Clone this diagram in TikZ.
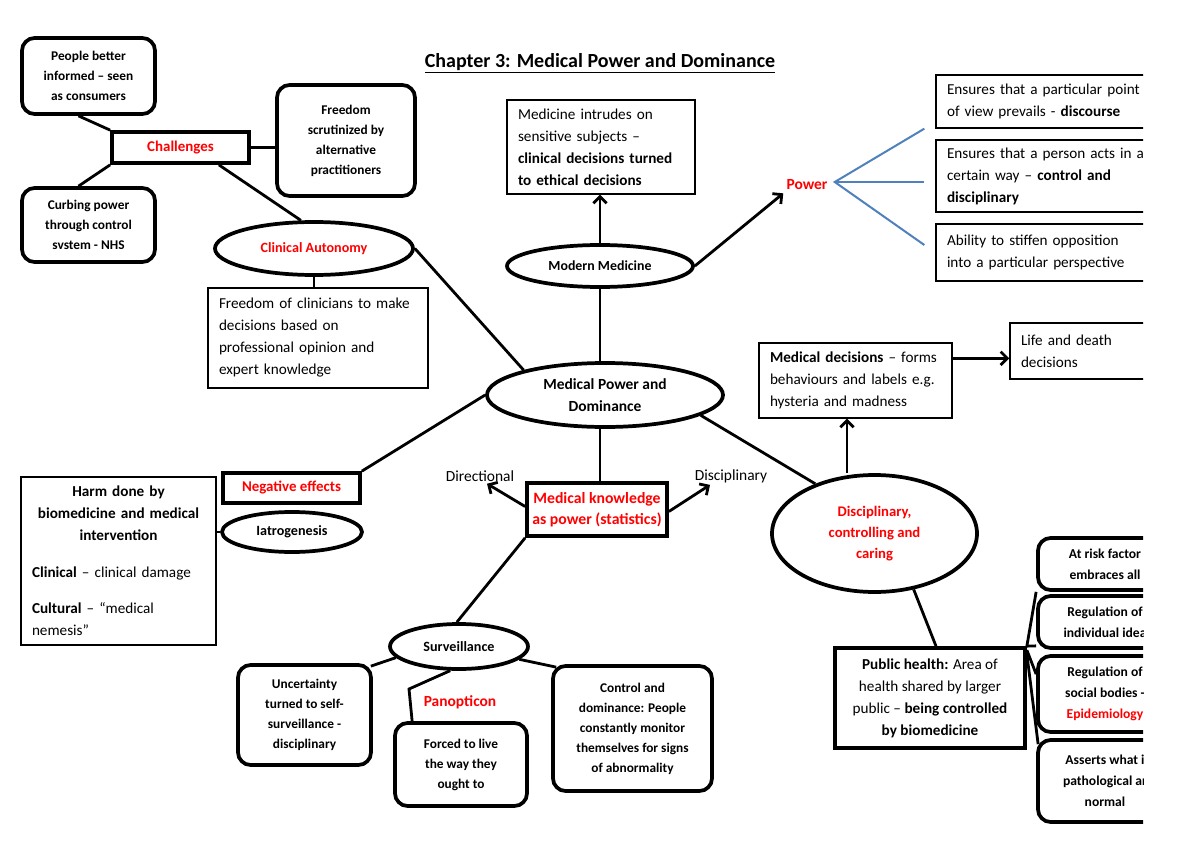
\documentclass[tikz,border=0pt]{standalone}
\usepackage{fontspec}
\setmainfont{Carlito}
\usetikzlibrary{shapes.geometric,arrows.meta,calc}
\definecolor{wblue}{RGB}{79,129,189}
\definecolor{wred}{RGB}{255,0,0}
\begin{document}
\begin{tikzpicture}[x=0.75pt,y=-0.75pt,
 sz/.style 2 args={minimum width=#1,minimum height=#2},
 rbox/.style={draw,line width=2.8pt,rounded corners=9.5pt,align=center,inner sep=0pt,font=\fontsize{10}{15}\selectfont\bfseries},
 tbox/.style={draw,line width=1pt,align=left,inner xsep=8.25pt,inner ysep=0pt,font=\fontsize{11.4}{16.5}\selectfont},
 hbox/.style={draw,line width=2.8pt,align=center,inner sep=0pt,font=\fontsize{11.2}{15.75}\selectfont\bfseries\color{wred}},
 ell/.style={ellipse,draw,line width=2.8pt,align=center,inner sep=0pt,font=\fontsize{10.6}{15.5}\selectfont\bfseries},
 redtxt/.style={text=wred},
 con/.style={line width=2.1pt},
 arr/.style={con,-{Straight Barb[length=5pt,width=10pt,line width=2.1pt]}},
 blu/.style={line width=1.5pt,draw=wblue},
 lbl/.style={inner sep=0pt,font=\fontsize{11.6}{16.5}\selectfont}
]
\useasboundingbox (0,0) rectangle (1200,849);
\fill[white] (0,0) rectangle (1200,849);
\begin{scope}
\clip (0,0) rectangle (1143,849);

% title
\node[inner sep=0pt,font=\fontsize{15}{18}\selectfont\bfseries] (title) at (600,63) {\underline{Chapter 3: Medical Power and Dominance}};

% top left cluster
\node[rbox,sz={99.75pt}{57pt}] (p1) at (88.5,76) {People better\\informed – seen\\as consumers};
\node[rbox,sz={103.5pt}{83.25pt}] (fs) at (346,140.5) {Freedom\\scrutinized by\\alternative\\practitioners};
\node[rbox,sz={99.75pt}{55.5pt}] (cp) at (88.5,225) {Curbing power\\through control\\svstem - NHS};
\node[hbox,sz={102.75pt}{23.25pt}] (ch) at (180.5,147.5) {Challenges};
\node[ell,redtxt,sz={148.5pt}{39.75pt}] (ca) at (314,248.5) {Clinical Autonomy};
\node[tbox,text width=148.5pt,minimum height=75pt] (fc) at (318,338) {Freedom of clinicians to make\\decisions based on\\professional opinion and\\expert knowledge};

% centre
\node[ell,sz={177pt}{48pt},font=\fontsize{11.6}{16.5}\selectfont\bfseries] (mpd) at (605,395) {Medical Power and\\Dominance};
\node[ell,sz={139.5pt}{31.5pt},font=\fontsize{10.4}{15.5}\selectfont\bfseries] (mm) at (600,266) {Modern Medicine};
\node[tbox,text width=124.5pt,minimum height=70.5pt] (mi) at (601,147) {Medicine intrudes on\\sensitive subjects –\\\textbf{clinical decisions turned}\\\textbf{to ethical decisions}};
\node[lbl,redtxt,font=\fontsize{11.6}{15}\selectfont\bfseries] (pw) at (807,185) {Power};
\node[tbox,text width=189pt,minimum height=39.75pt] (q1) at (1073,101.5) {Ensures that a particular point\\of view prevails - \textbf{discourse}};
\node[tbox,text width=189pt,minimum height=54pt] (q2) at (1073,176) {Ensures that a person acts in a\\certain way – \textbf{control and}\\\textbf{disciplinary}};
\node[tbox,text width=189pt,minimum height=42.75pt] (q3) at (1073,252.5) {Ability to stiffen opposition\\into a particular perspective};

% left lower
\node[hbox,sz={102.75pt}{22.5pt}] (ne) at (291.5,488) {Negative effects};
\node[ell,sz={105pt}{30pt}] (ia) at (292,532) {Iatrogenesis};
\node[tbox,text width=129.75pt,minimum height=126pt] (hm) at (118.5,561) {{\centering\bfseries Harm done by\\biomedicine and medical\\intervention\par}\vspace{11pt}
\textbf{Clinical} – clinical damage\par\vspace{10.5pt}
\textbf{Cultural} – “medical\\nemesis”};

% knowledge
\node[hbox,sz={105pt}{39.75pt},font=\fontsize{11.8}{15.75}\selectfont\bfseries\color{wred}] (mk) at (597,509.5) {Medical knowledge\\as power (statistics)};
\node[lbl] (dirl) at (480,476) {Directional};
\node[lbl] (disl) at (731,476) {Disciplinary};
\node[ell,sz={103.5pt}{33.75pt}] (sv) at (459,646.5) {Surveillance};
\node[rbox,sz={99.75pt}{75pt}] (un) at (304.5,715) {Uncertainty\\turned to self-\\surveillance -\\disciplinary};
\node[rbox,sz={119.25pt}{93.75pt}] (co) at (632.5,728.5) {Control and\\dominance: People\\constantly monitor\\themselves for signs\\of abnormality};
\node[rbox,sz={99pt}{62.25pt}] (fo) at (461,764.5) {Forced to live\\the way they\\ought to};
\node[lbl,redtxt,font=\fontsize{11.6}{15}\selectfont\bfseries] (pa) at (460,702) {Panopticon};

% right
\node[ell,redtxt,sz={153.75pt}{87.75pt},font=\fontsize{11}{15.5}\selectfont\bfseries] (dc) at (874.5,533.5) {Disciplinary,\\controlling and\\caring};
\node[tbox,text width=128.25pt,minimum height=56.25pt] (md) at (855.5,380.5) {\textbf{Medical decisions} – forms\\behaviours and labels e.g.\\hysteria and madness};
\node[tbox,text width=133.5pt,minimum height=42pt] (ld) at (1110,351) {Life and death\\decisions};
\node[draw,line width=2.8pt,align=center,inner sep=0pt,sz={142.5pt}{75pt},font=\fontsize{11.4}{16.5}\selectfont] (ph) at (930,698) {\textbf{Public health:} Area of\\health shared by larger\\public – \textbf{being controlled}\\\textbf{by biomedicine}};
\node[rbox,sz={100.5pt}{39pt},font=\fontsize{10.2}{15.75}\selectfont\bfseries] (r1) at (1105,564) {At risk factor\\embraces all};
\node[rbox,sz={100.5pt}{39pt},font=\fontsize{10.2}{15.75}\selectfont\bfseries] (r2) at (1105,622) {Regulation of\\individual idea};
\node[rbox,sz={100.5pt}{57pt},font=\fontsize{10.2}{15.75}\selectfont\bfseries] (r3) at (1105,694) {Regulation of\\social bodies -\\\textcolor{wred}{Epidemiology}};
\node[rbox,sz={100.5pt}{61.5pt},font=\fontsize{10.2}{15.75}\selectfont\bfseries] (r4) at (1105,781) {Asserts what i\\pathological ar\\normal};

% connectors
\draw[con] ($(p1.south)+(-10,0)$) -- (ch.north west);
\draw[con] ($(cp.north)+(-10,0)$) -- (ch.south west);
\draw[con] (ch.east) -- (ch.east -| fs.west);
\draw[con] ($(ch.south east)+(-32,0)$) -- (ca.115);
\draw[con] (ca.south) -- (ca.south |- fc.north);
\draw[con] (ca.east) -- (mpd.163);
\draw[con] (mm.south) -- (mm.south |- mpd.north);
\draw[arr] (mm.north) -- (mm.north |- mi.south);
\draw[arr] (mm.east) -- ($(pw.south west)+(-3,3)$);
\coordinate (pwr) at ($(pw.east)+(7,-3)$);
\draw[blu] ($(q1.south west)+(-11,0)$) -- (pwr) -- ($(q3.west)+(-11,-7.5)$);
\draw[blu] (pwr) -- ($(q2.west)+(-11,6)$);
\draw[con] (mpd.west) -- (ne.north east);
\draw[con] (ia.west) -- (ia.west -| hm.east);
\draw[con] (mm.south |- mpd.south) -- (mm.south |- mk.north);
\draw[arr] ($(mk.west)+(0,-3)$) -- ($(dirl.south)+(7,2)$);
\draw[arr] ($(mk.east)+(0,2)$) -- ($(disl.south)+(-21,2)$);
\draw[con] (mk.south west) -- (sv.95);
\draw[con] (sv.190) -- ($(un.north east)+(-2,3)$);
\draw[con] (sv.-12) -- ($(co.north west)+(5,3)$);
\coordinate (pbend) at (409,689);
\draw[con] (sv.250) -- (pbend) -- ($(fo.north west)+(19,0)$);
\draw[con] (mpd.-12) -- (dc.140);
\coordinate (mdb) at ($(md.south)+(-8.5,0)$);
\draw[arr] (mdb |- dc.north) -- (mdb);
\coordinate (mde) at ($(md.north east)!0.21!(md.south east)$);
\draw[arr] (mde) -- (mde -| ld.west);
\draw[con] (dc.-55) -- ($(ph.north)+(6,0)$);
\draw[con] (ph.north east) -- (r1.south west);
\draw[con] (ph.north east) -- ($(r2.south west)+(0,-4)$);
\draw[con] ($(ph.north east)+(0,4)$) -- ($(r3.north west)+(0,20)$);
\draw[con] ($(ph.north east)+(0,8)$) -- ($(r4.north west)+(2,6)$);
\end{scope}
\end{tikzpicture}
\end{document}
